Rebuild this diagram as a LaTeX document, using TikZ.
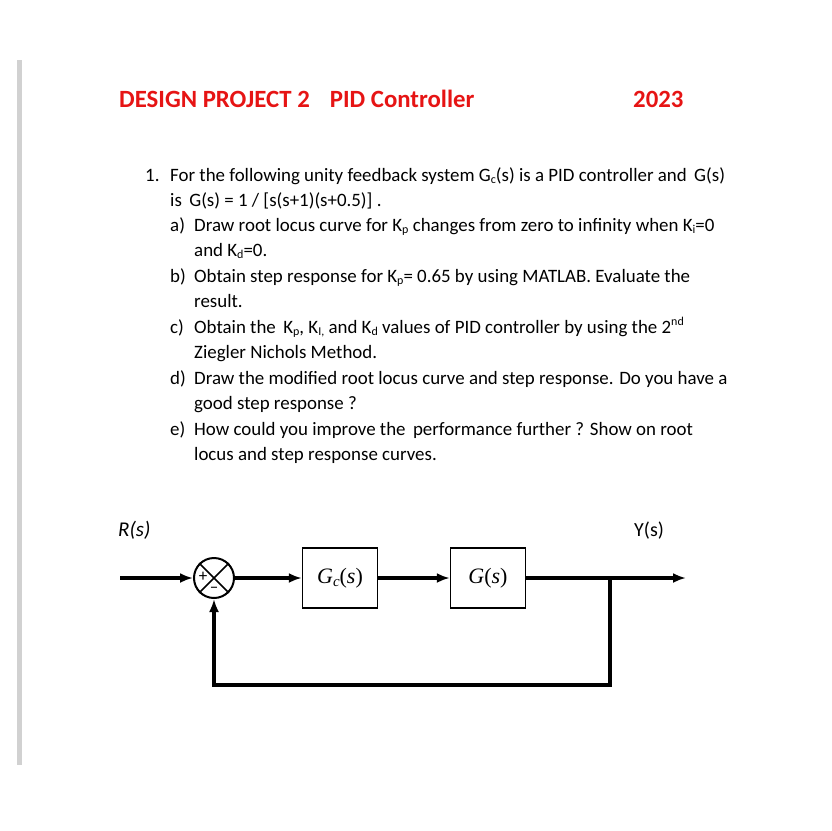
\documentclass[tikz,border=0pt]{standalone}
\usepackage{fontspec}
\setmainfont{Carlito}
\newfontfamily\tms{Liberation Serif}
\usetikzlibrary{arrows.meta}
\newcommand{\lo}[1]{\raisebox{-0.3ex}{\fontsize{12}{12}\selectfont #1}}
\newcommand{\hi}[1]{\raisebox{0.8ex}{\fontsize{12}{12}\selectfont #1}}
\definecolor{tred}{RGB}{230,20,20}
\tikzset{x=1pt,y=-1pt,
 ln/.style={anchor=base west,inner sep=0pt,font=\fontsize{18.9}{22}\selectfont},
 ttl/.style={anchor=base west,inner sep=0pt,font=\fontsize{24.8}{28}\selectfont\bfseries,text=tred},
 blk/.style={draw,line width=1.4pt,minimum width=75pt,minimum height=60pt,inner sep=0pt,font=\fontsize{22}{24}\selectfont\tms},
 wire/.style={line width=4pt},
 arr/.style={wire,-{Latex[length=13pt,width=10pt]}}}
\begin{document}
\begin{tikzpicture}
\useasboundingbox (0,0) rectangle (831,831);
\fill[black!18] (17,60) rectangle (22,765);
\node[ttl] (t1) at (119,107) {DESIGN PROJECT 2\hspace{20pt}PID Controller};
\node[ttl] (t2) at (633,107) {2023};
\node[ln] (l0) at (145,181) {1.};
\node[ln] (l1) at (170,181) {For the following unity feedback system G\lo{c}(s) is a PID controller and\, G(s)};
\node[ln] (l2) at (170,206) {is\, G(s) = 1 / [s(s+1)(s+0.5)] .};
\node[ln] (a) at (170,231) {a)};
\node[ln] (a1) at (194,231) {Draw root locus curve for K\lo{p} changes from zero to infinity when K\lo{i}=0};
\node[ln] (a2) at (194,256) {and K\lo{d}=0.};
\node[ln] (b) at (170,282) {b)};
\node[ln] (b1) at (194,282) {Obtain step response for K\lo{p}= 0.65 by using MATLAB. Evaluate the};
\node[ln] (b2) at (194,307) {result.};
\node[ln] (c) at (170,333) {c)};
\node[ln] (c1) at (194,333) {Obtain the\, K\lo{p}, K\lo{I,} and K\lo{d} values of PID controller by using the 2\hi{nd}};
\node[ln] (c2) at (194,358) {Ziegler Nichols Method.};
\node[ln] (d) at (170,384) {d)};
\node[ln] (d1) at (194,384) {Draw the modified root locus curve and step response. Do you have a};
\node[ln] (d2) at (194,409) {good step response ?};
\node[ln] (e) at (170,435) {e)};
\node[ln] (e1) at (194,435) {How could you improve the\, performance further ? Show on root};
\node[ln] (e2) at (194,460) {locus and step response curves.};
\node[ln,font=\fontsize{21}{24}\selectfont\itshape] (R) at (118,536) {R(s)};
\node[ln,font=\fontsize{20}{24}\selectfont] (Y) at (634,536) {Y(s)};
\node[draw,circle,line width=2pt,minimum size=40pt,inner sep=0pt] (S) at (214,578) {};
\draw[line width=1.6pt] (S.45)--(S.225) (S.135)--(S.315);
\node[font=\fontsize{17}{17}\selectfont] at (203,577) {+};
\node[font=\fontsize{17}{17}\selectfont] at (214,590) {--};
\node[blk] (Gc) at (340,578) {\itshape G\raisebox{-0.3ex}{\fontsize{15}{15}\selectfont c}\upshape(\itshape s\upshape)};
\node[blk] (G) at (488,578) {\itshape G\upshape(\itshape s\upshape)};
\coordinate (in) at (120,578);
\coordinate (out) at (686,578);
\coordinate (br) at (610,578);
\coordinate (c1) at (610,685);
\coordinate (c2) at (214,685);
\draw[arr] (in)--(S.west);
\draw[arr] (S.east)--(Gc.west);
\draw[arr] (Gc.east)--(G.west);
\draw[arr] (G.east)--(out);
\draw[arr] (br)--(c1)--(c2)--(S.south);
\end{tikzpicture}
\end{document}
